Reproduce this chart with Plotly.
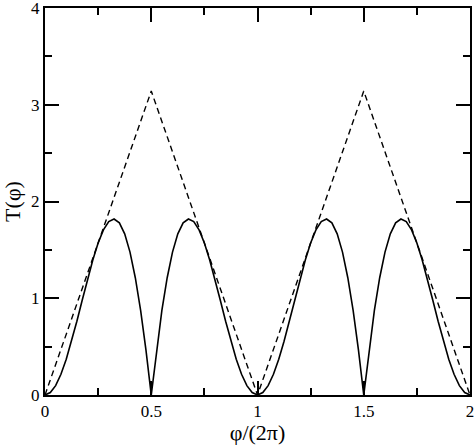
import plotly.graph_objects as go

# x positions (phi / 2pi)
x_solid = [round(i * 0.025, 3) for i in range(81)]
# solid curve values
y_solid = [
    0.000, 0.025, 0.097, 0.214, 0.369, 0.555, 0.762, 0.980, 1.195, 1.396,
    1.571, 1.707, 1.793, 1.819, 1.779, 1.666, 1.477, 1.212, 0.874, 0.467,
    0.000,
    0.467, 0.874, 1.212, 1.477, 1.666, 1.779, 1.819, 1.793, 1.707, 1.571,
    1.396, 1.195, 0.980, 0.762, 0.555, 0.369, 0.214, 0.097, 0.025, 0.000,
    0.025, 0.097, 0.214, 0.369, 0.555, 0.762, 0.980, 1.195, 1.396,
    1.571, 1.707, 1.793, 1.819, 1.779, 1.666, 1.477, 1.212, 0.874, 0.467,
    0.000,
    0.467, 0.874, 1.212, 1.477, 1.666, 1.779, 1.819, 1.793, 1.707, 1.571,
    1.396, 1.195, 0.980, 0.762, 0.555, 0.369, 0.214, 0.097, 0.025, 0.000,
]
# dashed triangle wave
x_dash = [0, 0.5, 1, 1.5, 2]
y_dash = [0, 3.1416, 0, 3.1416, 0]

x_ticks = [0, 0.5, 1, 1.5, 2]
x_ticklabels = ["0", "0.5", "1", "1.5", "2"]
y_ticks = [0, 1, 2, 3, 4]
y_ticklabels = ["0", "1", "2", "3", "4"]

FONT = "Liberation Serif"

fig = go.Figure()
fig.add_trace(go.Scatter(x=x_dash, y=y_dash, mode="lines",
                         line=dict(color="black", width=1.4, dash="6px,4px"),
                         showlegend=False))
fig.add_trace(go.Scatter(x=x_solid, y=y_solid, mode="lines",
                         line=dict(color="black", width=1.6),
                         showlegend=False))

axis_common = dict(
    showgrid=False, zeroline=False, showline=True, linecolor="black",
    linewidth=2, mirror="ticks", ticks="inside", tickcolor="black",
    tickwidth=1.5, ticklen=14, ticklabeloverflow="allow",
    tickfont=dict(family=FONT, size=17, color="black"),
)

fig.update_xaxes(
    range=[0, 2], tickvals=x_ticks, ticktext=x_ticklabels,
    minor=dict(tickvals=[0.25, 0.75, 1.25, 1.75], ticks="inside", ticklen=7,
               tickcolor="black", tickwidth=1.5),
    title=dict(text="φ/(2π)", font=dict(family=FONT, size=22, color="black"),
               standoff=1),
    **axis_common,
)
fig.update_yaxes(
    range=[0, 4], tickvals=y_ticks, ticktext=y_ticklabels,
    minor=dict(tickvals=[0.5, 1.5, 2.5, 3.5], ticks="inside", ticklen=7,
               tickcolor="black", tickwidth=1.5),
    title=dict(text="T(φ)", font=dict(family=FONT, size=22, color="black"),
               standoff=11),
    **axis_common,
)

fig.update_layout(
    width=474, height=445,
    margin=dict(l=45, r=4, t=8, b=50, autoexpand=False),
    paper_bgcolor="white", plot_bgcolor="white",
)

fig.write_html("out.html")
